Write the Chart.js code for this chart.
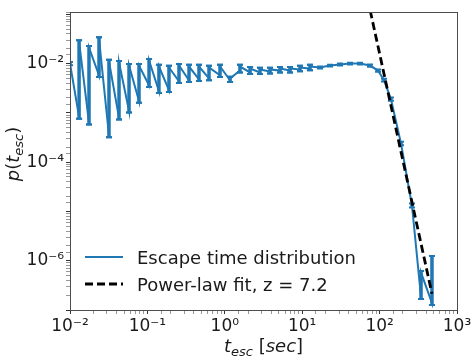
<!DOCTYPE html>
<html><head><meta charset="utf-8">
<script src="https://cdn.jsdelivr.net/npm/chart.js@4/dist/chart.umd.min.js"></script>
<style>html,body{margin:0;padding:0;background:#fff;}#wrap{width:474px;height:361px;}</style>
</head><body><div id="wrap"><canvas id="c" width="474" height="361"></canvas></div>
<script>
// escape time bins (sec) and probability values
const tEsc = [0.0100,0.0131,0.0131,0.0176,0.0176,0.0237,0.0237,0.0319,0.0319,0.0430,0.0430,0.0579,0.0579,0.0779,0.0779,0.105,0.105,0.141,0.141,0.190,0.190,0.256,0.256,0.345,0.345,0.464,0.464,0.625,0.625,0.867,0.867,1.17,1.17,1.57,1.57,2.12,2.12,2.85,2.85,3.84,3.84,5.17,5.17,6.96,6.96,9.37,9.37,12.6,12.6,17.0,22.9,30.8,41.5,55.8,75.2,95.4,114,140,189,262,343,343,475,475];
const pEsc = [1.00e-2,8.3e-4,2.75e-2,6.3e-4,2.09e-2,5.75e-3,3.16e-2,3.47e-4,1.10e-2,7.9e-4,1.05e-2,1.10e-3,9.1e-3,1.74e-3,9.1e-3,3.63e-3,1.15e-2,2.75e-3,8.7e-3,2.88e-3,8.3e-3,4.37e-3,9.1e-3,4.57e-3,8.7e-3,4.79e-3,8.7e-3,5.0e-3,8.3e-3,5.75e-3,8.7e-3,4.57e-3,5.0e-3,7.2e-3,8.7e-3,6.6e-3,7.9e-3,6.6e-3,7.6e-3,6.9e-3,7.6e-3,7.2e-3,7.9e-3,7.2e-3,7.9e-3,7.6e-3,8.3e-3,7.9e-3,8.7e-3,8.3e-3,9.1e-3,9.55e-3,1.0e-2,1.0e-2,9.1e-3,7.2e-3,4.6e-3,1.9e-3,2.4e-4,1.32e-5,1.82e-7,5.75e-7,1.38e-7,1.15e-6];
// error-bar extents (lower / upper cap)
const pLo = [9.2e-3,7.6e-4,7.6e-4,5.8e-4,5.8e-4,5.3e-3,5.3e-3,3.19e-4,3.19e-4,7.3e-4,7.3e-4,1.01e-3,1.01e-3,1.60e-3,1.60e-3,3.34e-3,3.34e-3,2.53e-3,2.53e-3,2.65e-3,2.65e-3,4.02e-3,4.02e-3,4.20e-3,4.20e-3,4.41e-3,4.41e-3,4.6e-3,4.6e-3,5.3e-3,5.3e-3,4.2e-3,4.2e-3,6.6e-3,6.6e-3,6.1e-3,6.1e-3,6.1e-3,6.1e-3,6.3e-3,6.3e-3,6.6e-3,6.6e-3,6.6e-3,6.6e-3,7.0e-3,7.0e-3,7.3e-3,7.3e-3,7.9e-3,8.7e-3,9.1e-3,9.6e-3,9.6e-3,8.6e-3,6.8e-3,4.3e-3,1.75e-3,2.2e-4,1.2e-5,1.67e-7,1.67e-7,1.27e-7,1.27e-7];
const pHi = [1.08e-2,2.97e-2,2.97e-2,2.26e-2,2.26e-2,3.41e-2,3.41e-2,1.19e-2,1.19e-2,1.13e-2,1.13e-2,9.8e-3,9.8e-3,9.8e-3,9.8e-3,1.24e-2,1.24e-2,9.4e-3,9.4e-3,9.0e-3,9.0e-3,9.8e-3,9.8e-3,9.4e-3,9.4e-3,9.4e-3,9.4e-3,9.0e-3,9.0e-3,9.4e-3,9.4e-3,5.4e-3,5.4e-3,9.4e-3,9.4e-3,8.5e-3,8.5e-3,8.2e-3,8.2e-3,8.2e-3,8.2e-3,8.5e-3,8.5e-3,8.5e-3,8.5e-3,9.0e-3,9.0e-3,9.4e-3,9.4e-3,8.7e-3,9.5e-3,1.0e-2,1.04e-2,1.04e-2,9.6e-3,7.6e-3,4.9e-3,2.05e-3,2.6e-4,1.44e-5,6.2e-7,6.2e-7,1.24e-6,1.24e-6];
// power-law fit endpoints (z = 7.2)
const fitT = [70, 475];
const fitP = [0.207, 2.13e-7];
const seriesLabels = ['Escape time distribution', 'Power-law fit, z = 7.2'];
const xTickLabels = {'-2':'10⁻²','-1':'10⁻¹','0':'10⁰','1':'10¹','2':'10²','3':'10³'};
const yTickLabels = {'-2':'10⁻²','-4':'10⁻⁴','-6':'10⁻⁶'};

const BLUE = '#1f77b4';
const FONT = '"DejaVu Sans", sans-serif';

const mainData = tEsc.map((t, i) => ({x: t, y: pEsc[i]}));
const errData = [];
tEsc.forEach((t, i) => {
  errData.push({x: t, y: pLo[i]});
  errData.push({x: t, y: pHi[i]});
  errData.push({x: t, y: null});
});
const fitData = fitT.map((t, i) => ({x: t, y: fitP[i]}));

function labelFor(map, v) {
  const e = Math.log10(v), r = Math.round(e);
  if (Math.abs(e - r) < 1e-6 && map[r] !== undefined) return map[r];
  return '';
}
function isMajor(v) {
  const e = Math.log10(v);
  return Math.abs(e - Math.round(e)) < 1e-6;
}

const framePlugin = {
  id: 'frame',
  afterDraw(chart) {
    const {ctx, chartArea: a} = chart;
    ctx.save();
    ctx.strokeStyle = '#4d4d4d';
    ctx.lineWidth = 1;
    ctx.strokeRect(Math.round(a.left) + 0.5, Math.round(a.top) + 0.5, Math.round(a.right - a.left), Math.round(a.bottom - a.top));
    ctx.restore();
  }
};

function drawParts(ctx, parts, cx, baseline) {
  const sizes = parts.map(p => {
    ctx.font = (p.it ? 'italic ' : '') + (p.sub ? 13 : 18) + 'px ' + FONT;
    return ctx.measureText(p.t).width;
  });
  const total = sizes.reduce((a, b) => a + b, 0);
  let x = cx - total / 2;
  parts.forEach((p, i) => {
    ctx.font = (p.it ? 'italic ' : '') + (p.sub ? 13 : 18) + 'px ' + FONT;
    ctx.fillText(p.t, x, baseline + (p.sub ? 4 : 0));
    x += sizes[i];
  });
}

const titlePlugin = {
  id: 'titles',
  afterDraw(chart) {
    const {ctx, chartArea: a} = chart;
    ctx.save();
    ctx.fillStyle = '#1a1a1a';
    ctx.textBaseline = 'alphabetic';
    ctx.textAlign = 'left';
    drawParts(ctx, [{t:'t',it:1},{t:'esc',it:1,sub:1},{t:' [',it:0},{t:'sec',it:1},{t:']',it:0}], (a.left + a.right) / 2, 352);
    ctx.translate(19, 154);
    ctx.rotate(-Math.PI / 2);
    drawParts(ctx, [{t:'p',it:1},{t:'(',it:0},{t:'t',it:1},{t:'esc',it:1,sub:1},{t:')',it:0}], 0, 0);
    ctx.restore();
  }
};

const legendPlugin = {
  id: 'customLegend',
  afterDraw(chart) {
    const {ctx, chartArea: a} = chart;
    const items = [chart.data.datasets[0], chart.data.datasets[2]];
    ctx.save();
    items.forEach((ds, i) => {
      const y = a.bottom - 53 + i * 27;
      ctx.strokeStyle = ds.borderColor;
      ctx.lineWidth = ds.borderWidth;
      ctx.setLineDash(ds.borderDash || []);
      ctx.beginPath();
      ctx.moveTo(a.left + 15, y);
      ctx.lineTo(a.left + 53, y);
      ctx.stroke();
      ctx.setLineDash([]);
      ctx.fillStyle = '#1a1a1a';
      ctx.font = '18px ' + FONT;
      ctx.textBaseline = 'alphabetic';
      ctx.fillText(ds.label, a.left + 67, y + 6.5);
    });
    ctx.restore();
  }
};

function tickColor(ctx) {
  return ctx.tick && isMajor(ctx.tick.value) ? '#333' : '#999';
}

new Chart(document.getElementById('c'), {
  type: 'line',
  data: {
    datasets: [
      {label: seriesLabels[0], data: mainData, borderColor: BLUE, borderWidth: 2, pointRadius: 0, fill: false, order: 2},
      {label: 'errors', data: errData, borderColor: BLUE, backgroundColor: BLUE, borderWidth: 3.5, borderCapStyle: 'butt', pointStyle: 'line', pointRadius: 3, pointBorderWidth: 2, pointBorderColor: BLUE, spanGaps: false, fill: false, order: 1},
      {label: seriesLabels[1], data: fitData, borderColor: '#000', borderWidth: 2.8, borderDash: [8, 4], pointRadius: 0, fill: false, order: 0}
    ]
  },
  options: {
    responsive: false,
    animation: false,
    devicePixelRatio: 1,
    layout: {padding: {left: 0, right: 17, top: 8, bottom: 0}},
    plugins: {legend: {display: false}, tooltip: {enabled: false}},
    scales: {
      x: {
        type: 'logarithmic', min: 0.01, max: 1000, position: 'bottom',
        border: {display: false},
        grid: {drawOnChartArea: false, drawTicks: true, tickLength: 4, tickColor: tickColor},
        ticks: {autoSkip: false, maxRotation: 0, padding: 2, color: '#1a1a1a', font: {family: FONT, size: 17},
          callback: (v) => labelFor(xTickLabels, v)},
        afterFit: (s) => { s.height = 51; }
      },
      y: {
        type: 'logarithmic', min: 1e-7, max: 0.11, position: 'left',
        border: {display: false},
        grid: {drawOnChartArea: false, drawTicks: true, tickLength: 4, tickColor: tickColor},
        ticks: {autoSkip: false, padding: 2, color: '#1a1a1a', font: {family: FONT, size: 17},
          callback: (v) => labelFor(yTickLabels, v)},
        afterFit: (s) => { s.width = 70; }
      }
    }
  },
  plugins: [framePlugin, titlePlugin, legendPlugin]
});
</script>
</body></html>
